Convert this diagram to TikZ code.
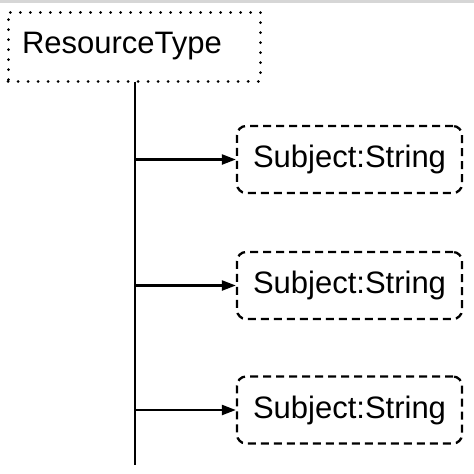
\documentclass[tikz,border=0pt]{standalone}
\usepackage{fontspec}
\setmainfont{Liberation Sans}
\usetikzlibrary{arrows.meta}
\tikzset{
  rtbox/.style={draw, line width=3pt, dash pattern=on 0.01pt off 10pt, line cap=round,
    minimum width=252pt, minimum height=69pt, text width=224pt, align=left,
    inner xsep=14pt, inner ysep=0pt, font=\fontsize{31}{36}\selectfont},
  subj/.style={draw, line width=2.3pt, dash pattern=on 8pt off 5pt, rounded corners=9pt,
    minimum width=225pt, minimum height=67pt, inner sep=0pt,
    font=\fontsize{31}{36}\selectfont},
  trunk/.style={line width=2.3pt},
  branch/.style={line width=2.3pt, -{Triangle[length=14pt,width=10pt]}},
}
\begin{document}
\begin{tikzpicture}[x=1pt,y=-1pt]
\useasboundingbox (0,0) rectangle (474,474);
\fill[black!16] (0,0) rectangle (474,2.5);
\node[rtbox] (rt) at (134,46.5) {ResourceType};
\node[subj] (s1) at (349.5,159.5) {Subject:String};
\node[subj] (s2) at (349.5,285.5) {Subject:String};
\node[subj] (s3) at (349.5,410) {Subject:String};
\coordinate (ttop) at (135,81.5);
\coordinate (tbot) at (135,465);
\coordinate (b1) at (135,159.5);
\coordinate (b2) at (135,285.5);
\coordinate (b3) at (135,410);
\draw[trunk] (ttop) -- (tbot);
\draw[branch] (b1) -- (s1.west);
\draw[branch] (b2) -- (s2.west);
\draw[branch] (b3) -- (s3.west);
\end{tikzpicture}
\end{document}
